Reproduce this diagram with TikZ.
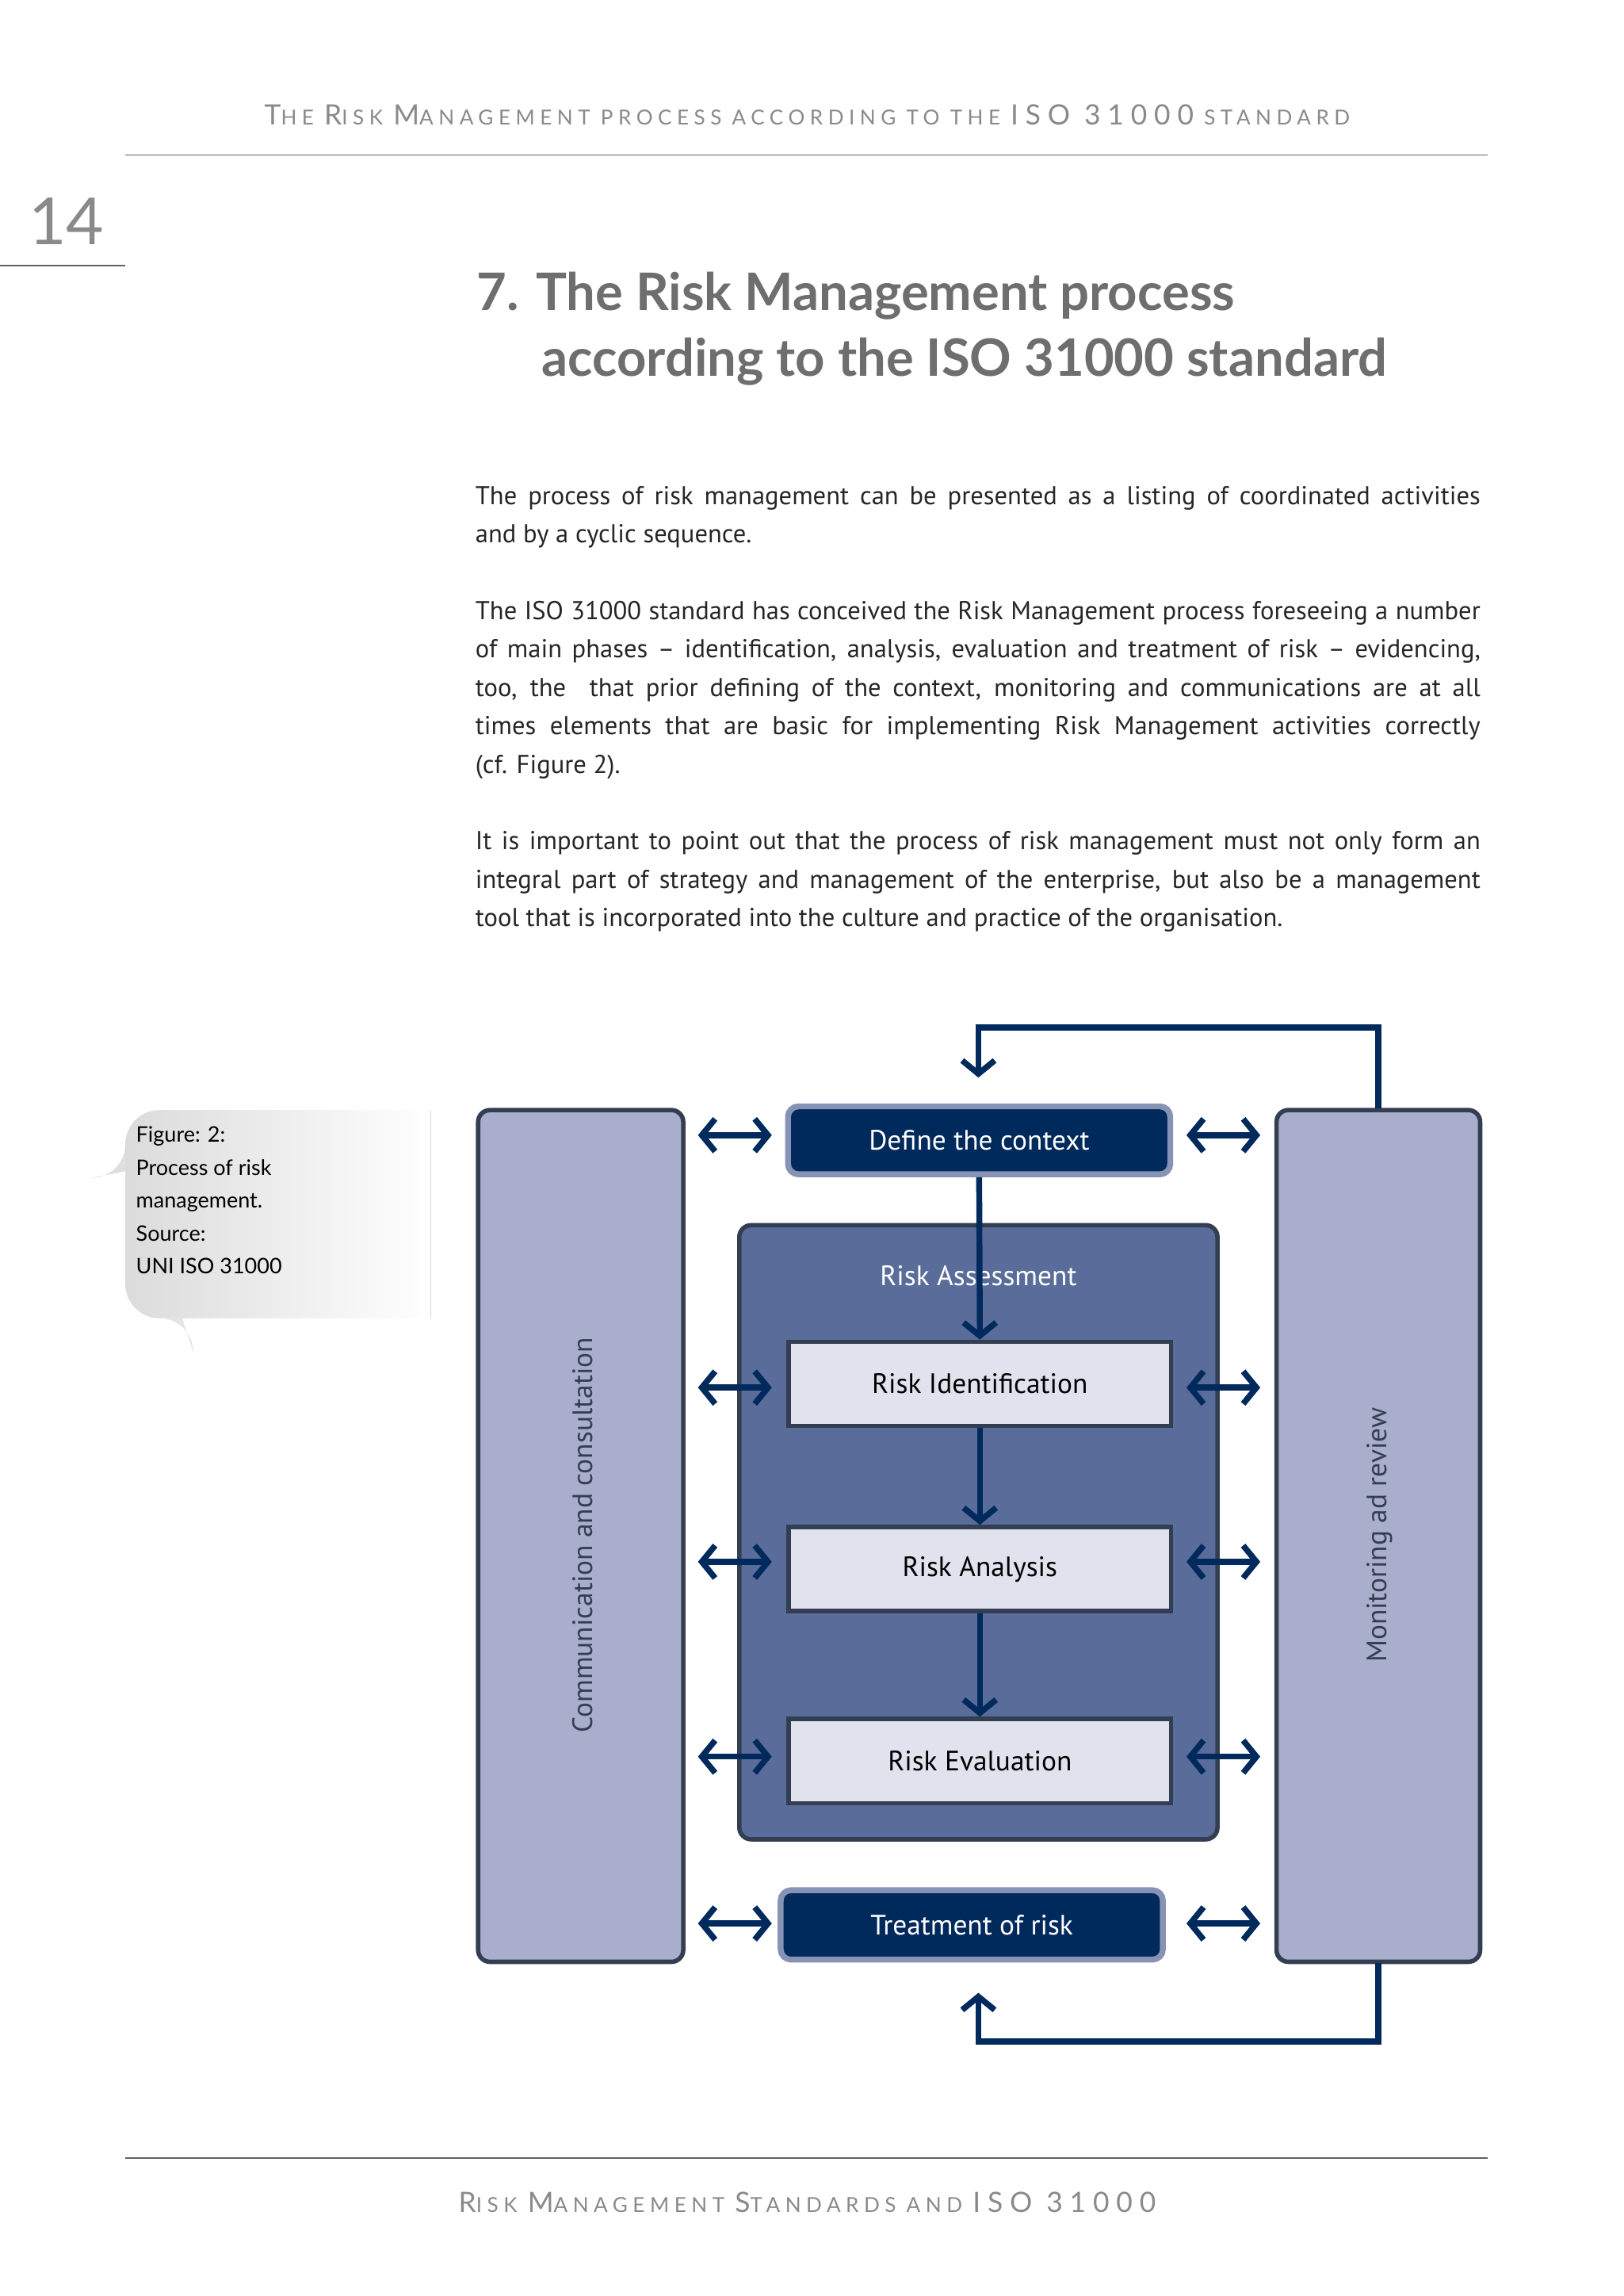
\documentclass[tikz,border=0pt]{standalone}
\usepackage{fontspec}
\setmainfont{PT Sans}
\newfontfamily\headf[LetterSpace=25]{Lato}
\newfontfamily\titf{Lato}
\usetikzlibrary{arrows.meta}
\definecolor{navy}{HTML}{00295C}
\definecolor{barfill}{HTML}{A8AECB}
\definecolor{edge}{HTML}{343E52}
\definecolor{assess}{HTML}{5A6D9A}
\definecolor{inner}{HTML}{E0E2EE}
\definecolor{hgray}{HTML}{8A8A8A}
\newcommand{\BG}[1]{{\fontsize{19}{19}\selectfont #1}}
\begin{document}
\begin{tikzpicture}[x=1pt,y=-1pt,
  arr/.style={navy,line width=4pt,-{Straight Barb[length=9pt,width=22pt,line width=4pt]}},
  darr/.style={navy,line width=4pt,{Straight Barb[length=9pt,width=22pt,line width=4pt]}-{Straight Barb[length=9pt,width=22pt,line width=4pt]}},
  bar/.style={fill=barfill,draw=edge,line width=3pt,rounded corners=8pt},
  darkbox/.style={fill=navy,draw=barfill!80!navy,line width=4pt,rounded corners=7pt,text=white,font=\fontsize{19}{19}\selectfont},
  lightbox/.style={fill=inner,draw=edge,line width=3pt,font=\fontsize{19}{19}\selectfont,text=black}]
\useasboundingbox[fill=white] (0,0) rectangle (1100,1555.4);
% header
\node[hgray,font=\headf\fontsize{14}{14}\selectfont] (hdr) at (547,78) {\BG{T}HE \BG{R}ISK \BG{M}ANAGEMENT PROCESS ACCORDING TO THE \BG{ISO 31000} STANDARD};
\draw[hgray!70!black,line width=1pt] (85,105) -- (1008,105);
\node[hgray,font=\titf\fontsize{44}{44}\selectfont] (pg) at (45,150) {14};
\draw[hgray!70!black,line width=1pt] (0,180) -- (85,180);
% title
\node[anchor=base west,hgray!80!black,font=\titf\bfseries\fontsize{35}{35}\selectfont,inner sep=0] (t1) at (323,210) {7. The Risk Management process};
\node[anchor=base west,hgray!80!black,font=\titf\bfseries\fontsize{35}{35}\selectfont,inner sep=0] (t2) at (367,255) {according to the ISO 31000 standard};
% paragraphs
\tikzset{para/.style={anchor=north west,inner sep=0,text width=681pt,align=justify,font=\fontsize{17.5}{26}\selectfont,color=black!85}}
\node[para] (p1) at (322,329) {The process of risk management can be presented as a listing of coordinated activities\linebreak and by a cyclic sequence.};
\node[para] (p2) at (322,407) {The ISO 31000 standard has conceived the Risk Management process foreseeing a number\linebreak of main phases -- identification, analysis, evaluation and treatment of risk -- evidencing,\linebreak too, the\ \ that prior defining of the context, monitoring and communications are at all\linebreak times elements that are basic for implementing Risk Management activities correctly\linebreak (cf. Figure 2).};
\node[para] (p3) at (322,563) {It is important to point out that the process of risk management must not only form an\linebreak integral part of strategy and management of the enterprise, but also be a management\linebreak tool that is incorporated into the culture and practice of the organisation.};
% caption box
\path[left color=black!14,right color=white] (85,775) arc (180:270:-23) -- (292,752) -- (292,893) -- (108,893) arc (90:180:-23) -- cycle;
\path[left color=black!14,right color=white] (108,752) -- (292,752) -- (292,893) -- (108,893) arc (90:180:23) -- (85,775) arc (180:270:23) -- cycle;
\draw[black!15] (292,752) -- (292,893);
\node[anchor=north west,inner sep=0,align=left,font=\titf\fontsize{14.5}{22.3}\selectfont] (cap) at (92,763) {Figure: 2:\\Process of risk\\management.\\Source:\\UNI ISO 31000};
% bars
\draw[bar] (324,752) rectangle (463,1329);
\draw[bar] (865,752) rectangle (1003,1329);
\node[rotate=90,font=\fontsize{19}{19}\selectfont,text=edge] (ltxt) at (395,1040) {Communication and consultation};
\node[rotate=90,font=\fontsize{19}{19}\selectfont,text=edge] (rtxt) at (935,1040) {Monitoring ad review};
\coordinate (rtop) at (934,751);
\coordinate (rbot) at (934,1330);
% assessment
\draw[fill=assess,draw=edge,line width=3pt,rounded corners=8pt] (501,830) rectangle (825,1246);
\node[text=white,font=\fontsize{19}{19}\selectfont] (ra) at (663,864) {Risk Assessment};
\node[darkbox,minimum width=259pt,minimum height=46pt] (def) at (663.5,772.5) {Define the context};
\node[lightbox,minimum width=259pt,minimum height=57pt] (rid) at (664,937.5) {Risk Identification};
\node[lightbox,minimum width=259pt,minimum height=57pt] (ran) at (664,1063) {Risk Analysis};
\node[lightbox,minimum width=259pt,minimum height=57pt] (rev) at (664,1193) {Risk Evaluation};
\node[darkbox,minimum width=259pt,minimum height=47pt] (trt) at (658.5,1304) {Treatment of risk};
% vertical arrows
\draw[arr] (def.south) -- (rid.north);
\draw[arr] (rid.south) -- (ran.north);
\draw[arr] (ran.south) -- (rev.north);
\coordinate (ftop) at (663,730);
\coordinate (fbot) at (663,1350);
\draw[arr] (rtop) -- (934,696) -- (663,696) -- (ftop);
\draw[arr] (rbot) -- (934,1383) -- (663,1383) -- (fbot);
% double arrows
\foreach \y/\n in {769/a,940/b,1058/c,1190/d,1303/e}{
  \coordinate (l1\n) at (473,\y); \coordinate (l2\n) at (523,\y);
  \coordinate (r1\n) at (804,\y); \coordinate (r2\n) at (854,\y);
  \draw[darr] (l1\n) -- (l2\n);
  \draw[darr] (r1\n) -- (r2\n);
}
% footer
\draw[hgray!70!black,line width=1pt] (85,1462) -- (1008,1462);
\node[hgray,font=\headf\fontsize{14}{14}\selectfont] (ftr) at (547,1492) {\BG{R}ISK \BG{M}ANAGEMENT \BG{S}TANDARDS AND \BG{ISO 31000}};
\end{tikzpicture}
\end{document}
